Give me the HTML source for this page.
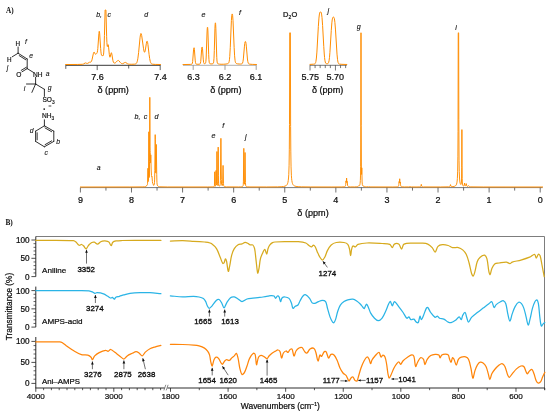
<!DOCTYPE html>
<html lang="en"><head><meta charset="utf-8"><title>NMR and FTIR spectra of Ani-AMPS</title>
<style>html,body{margin:0;padding:0;background:#fff}svg{display:block}</style></head>
<body>
<svg width="550" height="414" viewBox="0 0 550 414">
<rect width="550" height="414" fill="#ffffff"/>
<text x="6" y="12.8" font-family='"Liberation Serif", "Times New Roman", serif' font-size="7.2" font-weight="bold" fill="#0d0d0d">A)</text>
<line x1="18.1" y1="47" x2="18.1" y2="53.2" stroke="#1a1a1a" stroke-width="0.9" stroke-linecap="round"/>
<line x1="18.1" y1="53.2" x2="12.2" y2="56.8" stroke="#1a1a1a" stroke-width="0.9" stroke-linecap="round"/>
<line x1="18.1" y1="53.2" x2="27.2" y2="59" stroke="#1a1a1a" stroke-width="0.9" stroke-linecap="round"/>
<line x1="19.2" y1="55.6" x2="25.8" y2="59.8" stroke="#1a1a1a" stroke-width="0.9" stroke-linecap="round"/>
<line x1="27.2" y1="59" x2="27.2" y2="68.6" stroke="#1a1a1a" stroke-width="0.9" stroke-linecap="round"/>
<line x1="27.2" y1="68.6" x2="22" y2="71.8" stroke="#1a1a1a" stroke-width="0.9" stroke-linecap="round"/>
<line x1="26.4" y1="67.2" x2="21.2" y2="70.4" stroke="#1a1a1a" stroke-width="0.9" stroke-linecap="round"/>
<line x1="27.2" y1="68.6" x2="33.4" y2="72.4" stroke="#1a1a1a" stroke-width="0.9" stroke-linecap="round"/>
<line x1="35.6" y1="77.2" x2="35.6" y2="84" stroke="#1a1a1a" stroke-width="0.9" stroke-linecap="round"/>
<line x1="35.6" y1="84" x2="26.5" y2="84" stroke="#1a1a1a" stroke-width="0.9" stroke-linecap="round"/>
<line x1="35.6" y1="84" x2="31.9" y2="92.4" stroke="#1a1a1a" stroke-width="0.9" stroke-linecap="round"/>
<line x1="35.6" y1="84" x2="44.4" y2="89.3" stroke="#1a1a1a" stroke-width="0.9" stroke-linecap="round"/>
<line x1="44.4" y1="89.3" x2="44.4" y2="96.4" stroke="#1a1a1a" stroke-width="0.9" stroke-linecap="round"/>
<text x="17.9" y="46.2" font-family='"Liberation Sans", Arial, sans-serif' font-size="6.3" text-anchor="middle" fill="#0d0d0d" stroke="#111" stroke-width="0.18">H</text>
<text x="9.4" y="61.9" font-family='"Liberation Sans", Arial, sans-serif' font-size="6.3" text-anchor="middle" fill="#0d0d0d" stroke="#111" stroke-width="0.18">H</text>
<text x="18.8" y="76.7" font-family='"Liberation Sans", Arial, sans-serif' font-size="6.6" text-anchor="middle" fill="#0d0d0d" stroke="#111" stroke-width="0.18">O</text>
<text x="33" y="76.7" font-family='"Liberation Sans", Arial, sans-serif' font-size="6.6" fill="#0d0d0d" stroke="#111" stroke-width="0.18">NH</text>
<text x="42.4" y="102.2" font-family='"Liberation Sans", Arial, sans-serif' font-size="6.6" fill="#0d0d0d" stroke="#111" stroke-width="0.18">SO<tspan font-size="4.8" dy="1.3">3</tspan></text>
<line x1="48.6" y1="106" x2="51.3" y2="106" stroke="#111" stroke-width="0.8"/>
<circle cx="44.2" cy="109.1" r="0.85" fill="#111"/>
<text x="41.9" y="118.4" font-family='"Liberation Sans", Arial, sans-serif' font-size="6.6" fill="#0d0d0d" stroke="#111" stroke-width="0.18">NH<tspan font-size="4.8" dy="1.3">3</tspan></text>
<line x1="44.4" y1="119.8" x2="44.4" y2="125.8" stroke="#1a1a1a" stroke-width="0.9" stroke-linecap="round"/>
<line x1="44.4" y1="125.8" x2="53.8" y2="131.2" stroke="#1a1a1a" stroke-width="0.9" stroke-linecap="round"/>
<line x1="53.8" y1="131.2" x2="53.8" y2="141.4" stroke="#1a1a1a" stroke-width="0.9" stroke-linecap="round"/>
<line x1="53.8" y1="141.4" x2="44.4" y2="146.8" stroke="#1a1a1a" stroke-width="0.9" stroke-linecap="round"/>
<line x1="44.4" y1="146.8" x2="35.6" y2="141.4" stroke="#1a1a1a" stroke-width="0.9" stroke-linecap="round"/>
<line x1="35.6" y1="141.4" x2="35.6" y2="131.2" stroke="#1a1a1a" stroke-width="0.9" stroke-linecap="round"/>
<line x1="35.6" y1="131.2" x2="44.4" y2="125.8" stroke="#1a1a1a" stroke-width="0.9" stroke-linecap="round"/>
<line x1="45.06" y1="127.94" x2="51.61" y2="131.71" stroke="#1a1a1a" stroke-width="0.9" stroke-linecap="round"/>
<line x1="51.61" y1="140.89" x2="45.06" y2="144.66" stroke="#1a1a1a" stroke-width="0.9" stroke-linecap="round"/>
<line x1="37.13" y1="139.86" x2="37.13" y2="132.74" stroke="#1a1a1a" stroke-width="0.9" stroke-linecap="round"/>
<text x="26" y="44.2" font-family='"Liberation Sans", Arial, sans-serif' font-size="6.8" text-anchor="middle" font-style="italic" fill="#0d0d0d" stroke="#111" stroke-width="0.1">f</text>
<text x="31.2" y="58.1" font-family='"Liberation Sans", Arial, sans-serif' font-size="6.8" text-anchor="middle" font-style="italic" fill="#0d0d0d" stroke="#111" stroke-width="0.1">e</text>
<text x="7.6" y="70.2" font-family='"Liberation Sans", Arial, sans-serif' font-size="6.8" text-anchor="middle" font-style="italic" fill="#0d0d0d" stroke="#111" stroke-width="0.1">j</text>
<text x="47.6" y="76.2" font-family='"Liberation Sans", Arial, sans-serif' font-size="6.8" text-anchor="middle" font-style="italic" fill="#0d0d0d" stroke="#111" stroke-width="0.1">a</text>
<text x="24.4" y="91.4" font-family='"Liberation Sans", Arial, sans-serif' font-size="6.8" text-anchor="middle" font-style="italic" fill="#0d0d0d" stroke="#111" stroke-width="0.1">i</text>
<text x="49.6" y="89.7" font-family='"Liberation Sans", Arial, sans-serif' font-size="6.8" text-anchor="middle" font-style="italic" fill="#0d0d0d" stroke="#111" stroke-width="0.1">g</text>
<text x="31.7" y="133.2" font-family='"Liberation Sans", Arial, sans-serif' font-size="6.8" text-anchor="middle" font-style="italic" fill="#0d0d0d" stroke="#111" stroke-width="0.1">d</text>
<text x="58.2" y="144.2" font-family='"Liberation Sans", Arial, sans-serif' font-size="6.8" text-anchor="middle" font-style="italic" fill="#0d0d0d" stroke="#111" stroke-width="0.1">b</text>
<text x="46.2" y="155.2" font-family='"Liberation Sans", Arial, sans-serif' font-size="6.8" text-anchor="middle" font-style="italic" fill="#0d0d0d" stroke="#111" stroke-width="0.1">c</text>
<line x1="65.6" y1="65.3" x2="160.5" y2="65.3" stroke="#222" stroke-width="0.9"/>
<line x1="65.8" y1="65.3" x2="65.8" y2="68.9" stroke="#222" stroke-width="0.7"/>
<line x1="97.2" y1="65.3" x2="97.2" y2="70.1" stroke="#222" stroke-width="0.7"/>
<line x1="128.7" y1="65.3" x2="128.7" y2="68.5" stroke="#222" stroke-width="0.7"/>
<line x1="160.2" y1="65.3" x2="160.2" y2="70.1" stroke="#222" stroke-width="0.7"/>
<path d="M65.6 64.54L77.3 64.46L82.25 64.3L82.95 64.18L83.5 63.99L85.25 62.94L85.7 62.94L86.8 63.38L87.4 63.42L88 63.19L89.3 62.34L89.7 62.23L90.6 62.19L91.05 61.93L91.55 61.14L92 59.83L93.3 53.79L93.55 52.85L93.8 52.26L94 52.07L94.25 52.19L95.15 53.91L95.4 54.21L95.65 54.31L96.05 54.12L96.8 53.35L97.05 52.93L97.25 52.34L97.55 50.78L97.8 48.67L98.9 33.59L99.1 31.85L99.2 31.4L99.3 31.28L99.5 32.02L99.7 33.95L100.65 48.53L100.95 51.92L101.2 53.82L101.45 54.94L101.75 55.51L101.95 55.6L102.45 55.59L102.95 55.81L103.2 55.66L103.45 54.87L103.7 52.96L104.1 46.17L104.45 35.44L105.1 10L105.9 10L105.95 10.27L106.65 36.72L106.9 42.6L107.2 46.07L107.3 46.48L107.35 46.57L107.45 46.56L108 44.76L108.15 44.66L108.3 45.04L108.6 47.17L109.3 54.38L109.55 56.12L109.75 56.93L109.95 57.22L110.05 57.18L110.2 56.92L111.05 53.29L111.25 52.78L111.35 52.7L111.45 52.75L111.8 53.9L112.95 60.68L113.35 62.01L113.85 62.82L114.15 63.02L114.5 63.09L114.9 63.03L115.3 62.86L116.05 62.26L117.5 60.68L117.85 60.45L118.2 60.38L118.55 60.49L118.95 60.81L120.3 62.46L120.9 63.06L121.45 63.44L122.05 63.65L122.55 63.66L123.05 63.53L124.7 62.56L125.25 62.4L125.9 62.6L127.15 63.49L127.8 63.86L128.45 64.09L129.25 64.22L131.75 64.28L134.5 64.17L135.55 63.95L136.25 63.48L136.75 62.74L137.15 61.72L137.55 60.15L137.9 58.22L138.6 52.61L140.1 37.17L140.55 34.35L140.75 33.7L140.85 33.52L141 33.44L141.15 33.58L141.35 34.07L141.7 35.64L143.55 48.78L144 51.12L144.4 52.17L144.6 52.26L144.75 52.12L145.15 50.93L145.5 49.06L146.3 43.73L146.7 41.8L146.9 41.29L147.05 41.15L147.2 41.23L147.4 41.68L147.65 42.75L147.95 44.68L149.1 54.55L149.65 58.48L150.25 61.38L150.6 62.44L150.95 63.16L151.3 63.62L151.65 63.9L152.1 64.1L152.75 64.24L155.4 64.41L160.5 64.5" fill="none" stroke="#FF8C00" stroke-width="1.0" stroke-linejoin="round" stroke-linecap="round"/>
<text x="97.4" y="79.6" font-family='"Liberation Sans", Arial, sans-serif' font-size="9.0" text-anchor="middle" fill="#0d0d0d" stroke="#0d0d0d" stroke-width="0.22">7.6</text>
<text x="160.6" y="79.6" font-family='"Liberation Sans", Arial, sans-serif' font-size="9.0" text-anchor="middle" fill="#0d0d0d" stroke="#0d0d0d" stroke-width="0.22">7.4</text>
<text x="113.2" y="93.1" font-family='"Liberation Sans", Arial, sans-serif' font-size="9.1" text-anchor="middle" fill="#0d0d0d" stroke="#0d0d0d" stroke-width="0.22">δ (ppm)</text>
<text x="99" y="16.8" font-family='"Liberation Sans", Arial, sans-serif' font-size="6.9" text-anchor="middle" font-style="italic" fill="#0d0d0d" stroke="#0d0d0d" stroke-width="0.12">b,</text>
<text x="109.2" y="16.8" font-family='"Liberation Sans", Arial, sans-serif' font-size="6.9" text-anchor="middle" font-style="italic" fill="#0d0d0d" stroke="#0d0d0d" stroke-width="0.12">c</text>
<text x="146.2" y="16.8" font-family='"Liberation Sans", Arial, sans-serif' font-size="6.9" text-anchor="middle" font-style="italic" fill="#0d0d0d" stroke="#0d0d0d" stroke-width="0.12">d</text>
<line x1="183" y1="65.3" x2="256.5" y2="65.3" stroke="#9a9a9a" stroke-width="0.8"/>
<line x1="193.2" y1="65.3" x2="193.2" y2="69.9" stroke="#777" stroke-width="0.7"/>
<line x1="225" y1="65.3" x2="225" y2="69.9" stroke="#777" stroke-width="0.7"/>
<line x1="256.2" y1="65.3" x2="256.2" y2="69.9" stroke="#777" stroke-width="0.7"/>
<path d="M183 64.56L190.3 64.41L191.65 64.21L191.95 64.07L192.15 63.84L192.4 63.16L192.65 61.64L193.55 49.87L193.75 48.3L193.85 47.9L194 47.72L194.1 47.79L194.2 48.06L194.4 49.37L195.2 60.15L195.45 62.34L195.7 63.46L195.9 63.86L196.1 64.04L196.9 64.23L197.95 64.27L199 64.22L199.75 64.08L200.1 63.89L200.3 63.6L200.45 63.19L200.75 61.42L201.65 49.21L201.85 47.57L201.95 47.16L202.1 46.96L202.2 47.03L202.3 47.31L202.5 48.66L203.25 59.17L203.65 62.57L203.9 63.37L204.2 63.67L204.5 63.72L204.95 63.65L205.25 63.5L205.45 63.29L205.65 62.8L205.85 61.73L206.15 57.97L207.05 31.96L207.25 28.48L207.35 27.6L207.5 27.2L207.6 27.36L207.7 27.97L207.9 30.88L208.7 54.76L208.95 59.61L209.2 62.1L209.35 62.83L209.55 63.33L209.8 63.59L210.2 63.77L211.05 63.92L212 63.89L212.8 63.69L213.25 63.37L213.5 62.85L213.7 61.85L214 58.22L214.3 50.66L214.95 28.16L215.15 24.26L215.25 23.28L215.4 22.84L215.55 23.28L215.65 24.27L215.85 28.17L216.75 57.29L217 61.04L217.3 62.9L217.6 63.49L218.25 63.87L219.4 64.13L221.05 64.25L223.75 64.23L226.05 64.04L227.65 63.69L228.1 63.49L228.45 63.23L228.85 62.59L229.2 61.32L229.5 59.25L229.75 56.51L230.25 47.67L231.4 20.41L231.8 15.3L232 14.21L232.2 13.93L232.4 14.21L232.6 15.29L233 20.4L234.15 47.66L234.6 55.81L235.05 60.4L235.3 61.76L235.6 62.68L236 63.25L236.55 63.57L237.65 63.86L239.1 64.01L240.55 64.02L241.65 63.88L242.2 63.58L242.55 63.04L242.95 61.64L243.35 58.93L244.4 46.87L244.75 43.62L245.05 42L245.2 41.62L245.4 41.48L245.6 41.63L245.75 42.02L246.05 43.64L246.4 46.9L247.45 59L247.85 61.73L248.3 63.26L248.55 63.65L248.85 63.9L249.85 64.18L252.3 64.39L256.5 64.5" fill="none" stroke="#FF8C00" stroke-width="1.0" stroke-linejoin="round" stroke-linecap="round"/>
<text x="193.4" y="79.6" font-family='"Liberation Sans", Arial, sans-serif' font-size="9.0" text-anchor="middle" fill="#0d0d0d" stroke="#0d0d0d" stroke-width="0.22">6.3</text>
<text x="225" y="79.6" font-family='"Liberation Sans", Arial, sans-serif' font-size="9.0" text-anchor="middle" fill="#0d0d0d" stroke="#0d0d0d" stroke-width="0.22">6.2</text>
<text x="256" y="79.6" font-family='"Liberation Sans", Arial, sans-serif' font-size="9.0" text-anchor="middle" fill="#0d0d0d" stroke="#0d0d0d" stroke-width="0.22">6.1</text>
<text x="225.8" y="93.1" font-family='"Liberation Sans", Arial, sans-serif' font-size="9.1" text-anchor="middle" fill="#0d0d0d" stroke="#0d0d0d" stroke-width="0.22">δ (ppm)</text>
<text x="203.6" y="17" font-family='"Liberation Sans", Arial, sans-serif' font-size="7.1" text-anchor="middle" font-style="italic" fill="#0d0d0d" stroke="#0d0d0d" stroke-width="0.12">e</text>
<text x="239.9" y="15.4" font-family='"Liberation Sans", Arial, sans-serif' font-size="7.1" text-anchor="middle" font-style="italic" fill="#0d0d0d" stroke="#0d0d0d" stroke-width="0.12">f</text>
<line x1="309.8" y1="65.3" x2="346.8" y2="65.3" stroke="#555" stroke-width="0.8"/>
<line x1="310" y1="65.3" x2="310" y2="70.5" stroke="#333" stroke-width="0.65"/>
<line x1="315.09" y1="65.3" x2="315.09" y2="68.1" stroke="#333" stroke-width="0.65"/>
<line x1="320.18" y1="65.3" x2="320.18" y2="68.1" stroke="#333" stroke-width="0.65"/>
<line x1="325.27" y1="65.3" x2="325.27" y2="68.1" stroke="#333" stroke-width="0.65"/>
<line x1="330.36" y1="65.3" x2="330.36" y2="68.1" stroke="#333" stroke-width="0.65"/>
<line x1="335.45" y1="65.3" x2="335.45" y2="70.5" stroke="#333" stroke-width="0.65"/>
<line x1="340.54" y1="65.3" x2="340.54" y2="68.1" stroke="#333" stroke-width="0.65"/>
<line x1="345.63" y1="65.3" x2="345.63" y2="68.1" stroke="#333" stroke-width="0.65"/>
<path d="M310 64.39L313.45 64.2L314.25 64.09L314.7 63.95L315.1 63.64L315.4 63.18L315.65 62.52L315.9 61.52L316.4 58.03L316.9 52.09L318.35 26.36L318.95 18.08L319.3 14.97L319.65 13.09L320 12.18L320.2 11.97L320.5 11.9L320.8 11.96L321 12.17L321.35 13.06L321.7 14.94L322 17.51L322.6 25.47L323.75 46.4L324.25 54.01L324.55 57.41L324.9 60.22L325.25 61.99L325.6 62.97L325.95 63.47L326.45 63.74L327.3 63.79L327.95 63.59L328.3 63.22L328.55 62.73L329.05 60.77L329.5 57.35L329.9 52.69L331.25 30.63L331.85 22.88L332.2 19.96L332.55 18.18L332.95 17.27L333.15 17.12L333.45 17.08L333.7 17.16L333.9 17.35L334.25 18.21L334.6 20L334.9 22.44L335.5 29.94L337 54.14L337.5 59.27L337.75 60.96L338.05 62.34L338.3 63.08L338.6 63.61L338.95 63.92L339.4 64.1L341.95 64.33L346.8 64.47" fill="none" stroke="#FF8C00" stroke-width="1.0" stroke-linejoin="round" stroke-linecap="round"/>
<text x="310.3" y="79.6" font-family='"Liberation Sans", Arial, sans-serif' font-size="9.0" text-anchor="middle" fill="#0d0d0d" stroke="#0d0d0d" stroke-width="0.22">5.75</text>
<text x="335.3" y="79.6" font-family='"Liberation Sans", Arial, sans-serif' font-size="9.0" text-anchor="middle" fill="#0d0d0d" stroke="#0d0d0d" stroke-width="0.22">5.70</text>
<text x="327.6" y="93.1" font-family='"Liberation Sans", Arial, sans-serif' font-size="9.1" text-anchor="middle" fill="#0d0d0d" stroke="#0d0d0d" stroke-width="0.22">δ (ppm)</text>
<text x="328.2" y="12.7" font-family='"Liberation Sans", Arial, sans-serif' font-size="7.1" text-anchor="middle" font-style="italic" fill="#0d0d0d" stroke="#0d0d0d" stroke-width="0.12">j</text>
<line x1="80.4" y1="187.6" x2="542.6" y2="187.6" stroke="#555" stroke-width="0.8"/>
<line x1="80.4" y1="187.6" x2="80.4" y2="192.5" stroke="#333" stroke-width="0.7"/>
<text x="80.4" y="202.6" font-family='"Liberation Sans", Arial, sans-serif' font-size="9.0" text-anchor="middle" fill="#0d0d0d" stroke="#0d0d0d" stroke-width="0.22">9</text>
<line x1="105.95" y1="187.6" x2="105.95" y2="190.6" stroke="#333" stroke-width="0.7"/>
<line x1="131.49" y1="187.6" x2="131.49" y2="192.5" stroke="#333" stroke-width="0.7"/>
<text x="131.49" y="202.6" font-family='"Liberation Sans", Arial, sans-serif' font-size="9.0" text-anchor="middle" fill="#0d0d0d" stroke="#0d0d0d" stroke-width="0.22">8</text>
<line x1="157.04" y1="187.6" x2="157.04" y2="190.6" stroke="#333" stroke-width="0.7"/>
<line x1="182.58" y1="187.6" x2="182.58" y2="192.5" stroke="#333" stroke-width="0.7"/>
<text x="182.58" y="202.6" font-family='"Liberation Sans", Arial, sans-serif' font-size="9.0" text-anchor="middle" fill="#0d0d0d" stroke="#0d0d0d" stroke-width="0.22">7</text>
<line x1="208.12" y1="187.6" x2="208.12" y2="190.6" stroke="#333" stroke-width="0.7"/>
<line x1="233.67" y1="187.6" x2="233.67" y2="192.5" stroke="#333" stroke-width="0.7"/>
<text x="233.67" y="202.6" font-family='"Liberation Sans", Arial, sans-serif' font-size="9.0" text-anchor="middle" fill="#0d0d0d" stroke="#0d0d0d" stroke-width="0.22">6</text>
<line x1="259.22" y1="187.6" x2="259.22" y2="190.6" stroke="#333" stroke-width="0.7"/>
<line x1="284.76" y1="187.6" x2="284.76" y2="192.5" stroke="#333" stroke-width="0.7"/>
<text x="284.76" y="202.6" font-family='"Liberation Sans", Arial, sans-serif' font-size="9.0" text-anchor="middle" fill="#0d0d0d" stroke="#0d0d0d" stroke-width="0.22">5</text>
<line x1="310.31" y1="187.6" x2="310.31" y2="190.6" stroke="#333" stroke-width="0.7"/>
<line x1="335.85" y1="187.6" x2="335.85" y2="192.5" stroke="#333" stroke-width="0.7"/>
<text x="335.85" y="202.6" font-family='"Liberation Sans", Arial, sans-serif' font-size="9.0" text-anchor="middle" fill="#0d0d0d" stroke="#0d0d0d" stroke-width="0.22">4</text>
<line x1="361.39" y1="187.6" x2="361.39" y2="190.6" stroke="#333" stroke-width="0.7"/>
<line x1="386.94" y1="187.6" x2="386.94" y2="192.5" stroke="#333" stroke-width="0.7"/>
<text x="386.94" y="202.6" font-family='"Liberation Sans", Arial, sans-serif' font-size="9.0" text-anchor="middle" fill="#0d0d0d" stroke="#0d0d0d" stroke-width="0.22">3</text>
<line x1="412.49" y1="187.6" x2="412.49" y2="190.6" stroke="#333" stroke-width="0.7"/>
<line x1="438.03" y1="187.6" x2="438.03" y2="192.5" stroke="#333" stroke-width="0.7"/>
<text x="438.03" y="202.6" font-family='"Liberation Sans", Arial, sans-serif' font-size="9.0" text-anchor="middle" fill="#0d0d0d" stroke="#0d0d0d" stroke-width="0.22">2</text>
<line x1="463.58" y1="187.6" x2="463.58" y2="190.6" stroke="#333" stroke-width="0.7"/>
<line x1="489.12" y1="187.6" x2="489.12" y2="192.5" stroke="#333" stroke-width="0.7"/>
<text x="489.12" y="202.6" font-family='"Liberation Sans", Arial, sans-serif' font-size="9.0" text-anchor="middle" fill="#0d0d0d" stroke="#0d0d0d" stroke-width="0.22">1</text>
<line x1="514.67" y1="187.6" x2="514.67" y2="190.6" stroke="#333" stroke-width="0.7"/>
<line x1="540.21" y1="187.6" x2="540.21" y2="192.5" stroke="#333" stroke-width="0.7"/>
<text x="540.21" y="202.6" font-family='"Liberation Sans", Arial, sans-serif' font-size="9.0" text-anchor="middle" fill="#0d0d0d" stroke="#0d0d0d" stroke-width="0.22">0</text>
<text x="313" y="215.8" font-family='"Liberation Sans", Arial, sans-serif' font-size="9.1" text-anchor="middle" fill="#0d0d0d" stroke="#0d0d0d" stroke-width="0.22">δ (ppm)</text>
<path d="M80.4 187L129.86 186.98L142.14 186.9L144.51 186.8L145.76 186.62L146.14 186.37L146.59 185.51L146.87 185.51L146.99 185.43L147.43 184.59L147.57 183.31L147.93 168.27L148.23 180.41L148.33 181.47L148.42 180.23L148.57 170.27L148.84 131.78L149.14 171.63L149.24 176.85L149.3 177.44L149.36 176.43L149.52 161.68L149.8 97.33L150.07 146.92L150.13 150.7L150.28 152.48L150.48 162.51L150.52 163.06L150.57 162.6L150.81 154.83L151.16 169.04L151.48 175.64L151.63 176.58L151.71 176.56L151.89 176.11L151.99 176.41L152.4 181.52L152.6 183.08L152.73 183.45L152.93 183.53L153.01 183.65L153.35 184.98L153.57 185.37L153.77 185.35L153.99 185.09L154.31 184.13L154.48 182.66L154.61 179.91L154.79 170.61L155.2 134.64L155.31 139.54L155.58 166.04L155.73 172.79L155.77 173.09L155.82 172.6L155.91 169.4L156.19 148.26L156.3 144.45L156.72 174.25L156.94 182.29L157.09 184.12L157.34 185.24L157.79 186L158.49 186.46L159.44 186.69L160.94 186.83L167.36 186.96L207.63 186.97L212.17 186.93L213.72 186.79L214.05 186.65L214.26 186.41L214.45 185.4L214.75 171.8L215.02 184.77L215.15 185.99L215.28 186.21L215.45 186.22L215.59 186.03L215.68 185.71L215.79 184.25L216.05 170.45L216.31 183.79L216.45 184.94L216.61 183.57L216.73 176.77L216.93 151.53L217.19 181.41L217.31 184.61L217.42 185.24L217.5 185.39L217.59 185.41L217.74 185.04L217.83 184.3L217.94 180.8L218.2 147.1L218.4 175.66L218.52 183.45L218.62 184.99L218.8 185.78L218.95 186.03L219.13 186.15L219.36 186.17L219.59 186.06L219.95 185.54L220.18 184.64L220.32 183.09L220.42 180.43L220.9 138.32L221.36 179.56L221.57 184.15L221.75 185.11L222.03 185.6L222.26 185.6L222.42 185.26L222.61 183.36L223.05 165.41L223.48 183.38L223.66 185.53L223.8 186.02L224.02 186.36L224.34 186.59L224.79 186.74L226.45 186.9L238.58 186.95L240.68 186.89L241.83 186.78L242.5 186.55L242.91 186.13L243.13 185.57L243.27 184.73L243.43 181.17L243.8 148.34L244.09 176.13L244.26 183.14L244.38 184.16L244.45 184.24L244.52 184.03L244.69 180.86L245.05 152.5L245.44 182.45L245.63 185.29L245.82 185.97L246.14 186.43L246.57 186.67L247.23 186.82L249.98 186.94L266.49 186.96L277.52 186.86L281.13 186.73L283.48 186.51L285.09 186.14L286.21 185.58L286.93 184.85L287.48 183.83L287.91 182.44L288.25 180.56L288.53 178L288.75 174.74L289.08 165.21L289.32 149.2L289.49 124.54L289.72 32.8L290.38 32.8L290.62 126.57L290.8 151.11L291.06 166.86L291.38 175.28L291.59 178.23L291.84 180.49L292.15 182.26L292.53 183.6L293.01 184.61L293.61 185.34L294.07 185.7L294.62 185.99L296.06 186.42L298.14 186.68L301.31 186.83L310.35 186.95L331.13 186.98L341.2 186.95L344.13 186.83L344.69 186.71L345.07 186.51L345.33 186.2L345.52 185.72L345.73 184.42L345.99 180.95L346.02 180.89L346.05 180.99L346.22 182.3L346.27 182.34L346.32 182.13L346.6 178.05L346.9 182.39L346.95 182.55L347 182.47L347.2 181.39L347.59 185.43L347.84 186.19L348.24 186.59L349.03 186.82L350.58 186.91L354.42 186.91L356.84 186.79L357.5 186.68L357.91 186.52L358.15 186.29L358.5 185.73L358.87 186.04L359.14 186.02L359.42 185.78L359.67 185.36L359.91 184.62L360.1 183.57L360.36 180.4L360.53 175.09L360.65 166.25L360.81 126.15L360.91 32.8L361.09 32.8L361.19 125.64L361.36 165.99L361.53 174.18L361.58 174.45L361.63 173.8L361.8 167.84L362.11 181.96L362.34 184.4L362.52 185.17L362.76 185.72L363.02 186.04L363.31 186.21L363.62 186.18L364 185.82L364.38 186.39L364.68 186.61L365.27 186.76L366.28 186.84L367.18 186.83L367.72 186.73L368.02 186.55L368.5 186.03L368.98 186.57L369.3 186.76L369.86 186.88L370.9 186.93L392.83 186.97L396.07 186.93L397.51 186.81L397.95 186.68L398.26 186.49L398.48 186.2L398.64 185.79L398.84 184.58L399.09 181.54L399.12 181.49L399.15 181.58L399.32 182.74L399.37 182.77L399.42 182.56L399.7 178.78L399.99 182.76L400.04 182.96L400.09 182.95L400.25 182.03L400.28 181.97L400.31 182.03L400.56 184.78L400.75 185.84L400.93 186.27L401.18 186.55L401.54 186.73L402.07 186.84L404.61 186.95L408.63 186.92L409.38 186.75L410 186.18L410.64 186.76L411.46 186.93L416.98 186.97L419.8 186.89L420.4 186.73L420.75 186.39L420.95 185.89L421.3 184.39L421.67 185.96L421.93 186.51L422.4 186.81L423.31 186.93L440.54 186.96L448.68 186.83L449.47 186.69L449.9 186.41L450.14 185.94L450.5 184.63L450.94 186.11L451.14 186.4L451.41 186.57L452.02 186.66L453.02 186.61L454.01 186.45L454.79 186.22L455.56 185.76L456.13 185.1L456.56 184.16L456.89 182.85L457.15 181.05L457.36 178.59L457.66 171.17L457.89 156.16L458.04 131.37L458.22 33.58L458.23 32.8L458.67 32.8L458.82 119.74L459.06 160.79L459.25 171.48L459.51 178L459.89 181.96L460.15 183.25L460.47 184.12L460.7 184.43L460.92 184.48L461.1 184.29L461.25 183.81L461.45 182.09L461.58 178.96L461.73 167.22L461.9 129.59L462.06 165.82L462.2 178.42L462.32 181.98L462.49 184.05L462.76 185.26L462.95 185.63L463.19 185.88L463.44 185.99L463.69 185.99L463.89 185.87L464.05 185.64L464.25 185L464.6 183.02L465 185.25L465.16 185.71L465.36 185.95L465.63 185.95L465.85 185.62L466.3 183.65L466.72 185.68L466.89 186.08L467.12 186.34L467.48 186.47L467.84 186.4L468.06 186.21L468.5 185.6L468.98 186.35L469.29 186.61L469.84 186.78L470.81 186.87L483.26 186.98L542.6 187" fill="none" stroke="#FF8C00" stroke-width="0.95" stroke-linejoin="round" stroke-linecap="round" stroke-linejoin="miter"/>
<text x="137.4" y="118.9" font-family='"Liberation Sans", Arial, sans-serif' font-size="7.1" text-anchor="middle" font-style="italic" fill="#0d0d0d" stroke="#0d0d0d" stroke-width="0.12">b,</text>
<text x="145.6" y="118.9" font-family='"Liberation Sans", Arial, sans-serif' font-size="7.1" text-anchor="middle" font-style="italic" fill="#0d0d0d" stroke="#0d0d0d" stroke-width="0.12">c</text>
<text x="156.4" y="118.9" font-family='"Liberation Sans", Arial, sans-serif' font-size="7.1" text-anchor="middle" font-style="italic" fill="#0d0d0d" stroke="#0d0d0d" stroke-width="0.12">d</text>
<text x="213.4" y="137.9" font-family='"Liberation Sans", Arial, sans-serif' font-size="7.1" text-anchor="middle" font-style="italic" fill="#0d0d0d" stroke="#0d0d0d" stroke-width="0.12">e</text>
<text x="223.3" y="127.8" font-family='"Liberation Sans", Arial, sans-serif' font-size="7.1" text-anchor="middle" font-style="italic" fill="#0d0d0d" stroke="#0d0d0d" stroke-width="0.12">f</text>
<text x="245.9" y="138.6" font-family='"Liberation Sans", Arial, sans-serif' font-size="7.1" text-anchor="middle" font-style="italic" fill="#0d0d0d" stroke="#0d0d0d" stroke-width="0.12">j</text>
<text x="98.6" y="169.6" font-family='"Liberation Sans", Arial, sans-serif' font-size="6.9" text-anchor="middle" font-style="italic" fill="#0d0d0d" stroke="#0d0d0d" stroke-width="0.12">a</text>
<text x="358.7" y="28.5" font-family='"Liberation Sans", Arial, sans-serif' font-size="7.1" text-anchor="middle" font-style="italic" fill="#0d0d0d" stroke="#0d0d0d" stroke-width="0.12">g</text>
<text x="456" y="30.4" font-family='"Liberation Sans", Arial, sans-serif' font-size="7.1" text-anchor="middle" font-style="italic" fill="#0d0d0d" stroke="#0d0d0d" stroke-width="0.12">i</text>
<text x="283" y="17" font-family='"Liberation Sans", Arial, sans-serif' font-size="7.5" fill="#0d0d0d" stroke="#0d0d0d" stroke-width="0.22">D<tspan font-size="5" dy="2.3" dx="0.2">2</tspan><tspan dy="-2.3" dx="0.2">O</tspan></text>
<text x="5.4" y="224.5" font-family='"Liberation Serif", "Times New Roman", serif' font-size="7.4" font-weight="bold" fill="#0d0d0d">B)</text>
<line x1="35.8" y1="236.5" x2="544.5" y2="236.5" stroke="#6e6e6e" stroke-width="0.9"/>
<line x1="544.5" y1="236.5" x2="544.5" y2="390.1" stroke="#6e6e6e" stroke-width="0.9"/>
<line x1="35.35" y1="388" x2="164.6" y2="388" stroke="#222" stroke-width="0.95"/>
<line x1="167.4" y1="388" x2="544.95" y2="388" stroke="#222" stroke-width="0.95"/>
<line x1="163.9" y1="390.4" x2="165.8" y2="384.8" stroke="#3a3a3a" stroke-width="0.6"/>
<line x1="166.2" y1="390.4" x2="168.1" y2="384.8" stroke="#3a3a3a" stroke-width="0.6"/>
<line x1="35.8" y1="236.5" x2="35.8" y2="276.6" stroke="#222" stroke-width="0.95"/>
<line x1="31.4" y1="276.6" x2="35.8" y2="276.6" stroke="#222" stroke-width="0.8"/>
<text x="29.6" y="279.5" font-family='"Liberation Sans", Arial, sans-serif' font-size="8.2" text-anchor="end" fill="#0d0d0d" stroke="#0d0d0d" stroke-width="0.22">0</text>
<line x1="33.5" y1="272.94" x2="35.8" y2="272.94" stroke="#222" stroke-width="0.7"/>
<line x1="33.5" y1="269.28" x2="35.8" y2="269.28" stroke="#222" stroke-width="0.7"/>
<line x1="33.5" y1="265.62" x2="35.8" y2="265.62" stroke="#222" stroke-width="0.7"/>
<line x1="33.5" y1="261.96" x2="35.8" y2="261.96" stroke="#222" stroke-width="0.7"/>
<line x1="31.4" y1="258.3" x2="35.8" y2="258.3" stroke="#222" stroke-width="0.8"/>
<text x="29.6" y="261.2" font-family='"Liberation Sans", Arial, sans-serif' font-size="8.2" text-anchor="end" fill="#0d0d0d" stroke="#0d0d0d" stroke-width="0.22">50</text>
<line x1="33.5" y1="254.64" x2="35.8" y2="254.64" stroke="#222" stroke-width="0.7"/>
<line x1="33.5" y1="250.98" x2="35.8" y2="250.98" stroke="#222" stroke-width="0.7"/>
<line x1="33.5" y1="247.32" x2="35.8" y2="247.32" stroke="#222" stroke-width="0.7"/>
<line x1="33.5" y1="243.66" x2="35.8" y2="243.66" stroke="#222" stroke-width="0.7"/>
<line x1="31.4" y1="240" x2="35.8" y2="240" stroke="#222" stroke-width="0.8"/>
<text x="29.6" y="242.9" font-family='"Liberation Sans", Arial, sans-serif' font-size="8.2" text-anchor="end" fill="#0d0d0d" stroke="#0d0d0d" stroke-width="0.22">100</text>
<line x1="35.8" y1="286.6" x2="35.8" y2="327.1" stroke="#222" stroke-width="0.95"/>
<line x1="31.4" y1="327.1" x2="35.8" y2="327.1" stroke="#222" stroke-width="0.8"/>
<text x="29.6" y="330" font-family='"Liberation Sans", Arial, sans-serif' font-size="8.2" text-anchor="end" fill="#0d0d0d" stroke="#0d0d0d" stroke-width="0.22">0</text>
<line x1="33.5" y1="323.45" x2="35.8" y2="323.45" stroke="#222" stroke-width="0.7"/>
<line x1="33.5" y1="319.8" x2="35.8" y2="319.8" stroke="#222" stroke-width="0.7"/>
<line x1="33.5" y1="316.15" x2="35.8" y2="316.15" stroke="#222" stroke-width="0.7"/>
<line x1="33.5" y1="312.5" x2="35.8" y2="312.5" stroke="#222" stroke-width="0.7"/>
<line x1="31.4" y1="308.85" x2="35.8" y2="308.85" stroke="#222" stroke-width="0.8"/>
<text x="29.6" y="311.75" font-family='"Liberation Sans", Arial, sans-serif' font-size="8.2" text-anchor="end" fill="#0d0d0d" stroke="#0d0d0d" stroke-width="0.22">50</text>
<line x1="33.5" y1="305.2" x2="35.8" y2="305.2" stroke="#222" stroke-width="0.7"/>
<line x1="33.5" y1="301.55" x2="35.8" y2="301.55" stroke="#222" stroke-width="0.7"/>
<line x1="33.5" y1="297.9" x2="35.8" y2="297.9" stroke="#222" stroke-width="0.7"/>
<line x1="33.5" y1="294.25" x2="35.8" y2="294.25" stroke="#222" stroke-width="0.7"/>
<line x1="31.4" y1="290.6" x2="35.8" y2="290.6" stroke="#222" stroke-width="0.8"/>
<text x="29.6" y="293.5" font-family='"Liberation Sans", Arial, sans-serif' font-size="8.2" text-anchor="end" fill="#0d0d0d" stroke="#0d0d0d" stroke-width="0.22">100</text>
<line x1="35.8" y1="337" x2="35.8" y2="388" stroke="#222" stroke-width="0.95"/>
<line x1="31.4" y1="383.4" x2="35.8" y2="383.4" stroke="#222" stroke-width="0.8"/>
<text x="29.6" y="386.3" font-family='"Liberation Sans", Arial, sans-serif' font-size="8.2" text-anchor="end" fill="#0d0d0d" stroke="#0d0d0d" stroke-width="0.22">0</text>
<line x1="33.5" y1="379.2" x2="35.8" y2="379.2" stroke="#222" stroke-width="0.7"/>
<line x1="33.5" y1="375" x2="35.8" y2="375" stroke="#222" stroke-width="0.7"/>
<line x1="33.5" y1="370.8" x2="35.8" y2="370.8" stroke="#222" stroke-width="0.7"/>
<line x1="33.5" y1="366.6" x2="35.8" y2="366.6" stroke="#222" stroke-width="0.7"/>
<line x1="31.4" y1="362.4" x2="35.8" y2="362.4" stroke="#222" stroke-width="0.8"/>
<text x="29.6" y="365.3" font-family='"Liberation Sans", Arial, sans-serif' font-size="8.2" text-anchor="end" fill="#0d0d0d" stroke="#0d0d0d" stroke-width="0.22">50</text>
<line x1="33.5" y1="358.2" x2="35.8" y2="358.2" stroke="#222" stroke-width="0.7"/>
<line x1="33.5" y1="354" x2="35.8" y2="354" stroke="#222" stroke-width="0.7"/>
<line x1="33.5" y1="349.8" x2="35.8" y2="349.8" stroke="#222" stroke-width="0.7"/>
<line x1="33.5" y1="345.6" x2="35.8" y2="345.6" stroke="#222" stroke-width="0.7"/>
<line x1="31.4" y1="341.4" x2="35.8" y2="341.4" stroke="#222" stroke-width="0.8"/>
<text x="29.6" y="344.3" font-family='"Liberation Sans", Arial, sans-serif' font-size="8.2" text-anchor="end" fill="#0d0d0d" stroke="#0d0d0d" stroke-width="0.22">100</text>
<line x1="35.8" y1="388" x2="35.8" y2="391.8" stroke="#222" stroke-width="0.8"/>
<text x="35.8" y="399.3" font-family='"Liberation Sans", Arial, sans-serif' font-size="8.1" text-anchor="middle" fill="#0d0d0d" stroke="#0d0d0d" stroke-width="0.22">4000</text>
<line x1="43.6" y1="388" x2="43.6" y2="390.2" stroke="#222" stroke-width="0.75"/>
<line x1="51.4" y1="388" x2="51.4" y2="390.2" stroke="#222" stroke-width="0.75"/>
<line x1="59.2" y1="388" x2="59.2" y2="390.2" stroke="#222" stroke-width="0.75"/>
<line x1="67" y1="388" x2="67" y2="390.2" stroke="#222" stroke-width="0.75"/>
<line x1="74.8" y1="388" x2="74.8" y2="390.2" stroke="#222" stroke-width="0.75"/>
<line x1="82.6" y1="388" x2="82.6" y2="390.2" stroke="#222" stroke-width="0.75"/>
<line x1="90.4" y1="388" x2="90.4" y2="390.2" stroke="#222" stroke-width="0.75"/>
<line x1="98.2" y1="388" x2="98.2" y2="390.2" stroke="#222" stroke-width="0.75"/>
<line x1="106" y1="388" x2="106" y2="390.2" stroke="#222" stroke-width="0.75"/>
<line x1="113.8" y1="388" x2="113.8" y2="391.8" stroke="#222" stroke-width="0.8"/>
<text x="113.8" y="399.3" font-family='"Liberation Sans", Arial, sans-serif' font-size="8.1" text-anchor="middle" fill="#0d0d0d" stroke="#0d0d0d" stroke-width="0.22">3000</text>
<line x1="121.6" y1="388" x2="121.6" y2="390.2" stroke="#222" stroke-width="0.75"/>
<line x1="129.4" y1="388" x2="129.4" y2="390.2" stroke="#222" stroke-width="0.75"/>
<line x1="137.2" y1="388" x2="137.2" y2="390.2" stroke="#222" stroke-width="0.75"/>
<line x1="145" y1="388" x2="145" y2="390.2" stroke="#222" stroke-width="0.75"/>
<line x1="152.8" y1="388" x2="152.8" y2="390.2" stroke="#222" stroke-width="0.75"/>
<line x1="160.6" y1="388" x2="160.6" y2="390.2" stroke="#222" stroke-width="0.75"/>
<line x1="170.5" y1="388" x2="170.5" y2="391.8" stroke="#222" stroke-width="0.8"/>
<text x="170.5" y="399.3" font-family='"Liberation Sans", Arial, sans-serif' font-size="8.1" text-anchor="middle" fill="#0d0d0d" stroke="#0d0d0d" stroke-width="0.22">1800</text>
<line x1="199.29" y1="388" x2="199.29" y2="390.2" stroke="#222" stroke-width="0.75"/>
<line x1="228.08" y1="388" x2="228.08" y2="391.8" stroke="#222" stroke-width="0.8"/>
<text x="228.08" y="399.3" font-family='"Liberation Sans", Arial, sans-serif' font-size="8.1" text-anchor="middle" fill="#0d0d0d" stroke="#0d0d0d" stroke-width="0.22">1600</text>
<line x1="256.87" y1="388" x2="256.87" y2="390.2" stroke="#222" stroke-width="0.75"/>
<line x1="285.66" y1="388" x2="285.66" y2="391.8" stroke="#222" stroke-width="0.8"/>
<text x="285.66" y="399.3" font-family='"Liberation Sans", Arial, sans-serif' font-size="8.1" text-anchor="middle" fill="#0d0d0d" stroke="#0d0d0d" stroke-width="0.22">1400</text>
<line x1="314.45" y1="388" x2="314.45" y2="390.2" stroke="#222" stroke-width="0.75"/>
<line x1="343.24" y1="388" x2="343.24" y2="391.8" stroke="#222" stroke-width="0.8"/>
<text x="343.24" y="399.3" font-family='"Liberation Sans", Arial, sans-serif' font-size="8.1" text-anchor="middle" fill="#0d0d0d" stroke="#0d0d0d" stroke-width="0.22">1200</text>
<line x1="372.03" y1="388" x2="372.03" y2="390.2" stroke="#222" stroke-width="0.75"/>
<line x1="400.82" y1="388" x2="400.82" y2="391.8" stroke="#222" stroke-width="0.8"/>
<text x="400.82" y="399.3" font-family='"Liberation Sans", Arial, sans-serif' font-size="8.1" text-anchor="middle" fill="#0d0d0d" stroke="#0d0d0d" stroke-width="0.22">1000</text>
<line x1="429.61" y1="388" x2="429.61" y2="390.2" stroke="#222" stroke-width="0.75"/>
<line x1="458.4" y1="388" x2="458.4" y2="391.8" stroke="#222" stroke-width="0.8"/>
<text x="458.4" y="399.3" font-family='"Liberation Sans", Arial, sans-serif' font-size="8.1" text-anchor="middle" fill="#0d0d0d" stroke="#0d0d0d" stroke-width="0.22">800</text>
<line x1="487.19" y1="388" x2="487.19" y2="390.2" stroke="#222" stroke-width="0.75"/>
<line x1="515.98" y1="388" x2="515.98" y2="391.8" stroke="#222" stroke-width="0.8"/>
<text x="515.98" y="399.3" font-family='"Liberation Sans", Arial, sans-serif' font-size="8.1" text-anchor="middle" fill="#0d0d0d" stroke="#0d0d0d" stroke-width="0.22">600</text>
<line x1="544.77" y1="388" x2="544.77" y2="390.2" stroke="#222" stroke-width="0.75"/>
<text x="240.8" y="408.6" font-family='"Liberation Sans", Arial, sans-serif' font-size="8.45" fill="#0d0d0d" stroke="#0d0d0d" stroke-width="0.22">Wavenumbers (cm<tspan font-size="5" dy="-3">−1</tspan><tspan dy="3">)</tspan></text>
<text transform="translate(12.3,306.5) rotate(-90)" text-anchor="middle" font-family='"Liberation Sans", Arial, sans-serif' font-size="8.3" fill="#0d0d0d" stroke="#0d0d0d" stroke-width="0.22">Transmittance (%)</text>
<path d="M35.8 240.4C48.33 240.47 60.98 240.11 73.4 240.6C74.38 240.64 75.25 241.38 76 242C77.15 242.95 77.92 244.77 79.1 245.3C79.79 245.61 80.82 244.41 81.6 244.5C82.29 244.58 82.96 245.27 83.5 245.8C84.46 246.73 85.27 248.76 86.1 248.9C86.7 249 87.22 247.29 87.8 246.5C88.29 245.83 88.72 245.08 89.3 244.5C90.05 243.75 90.86 242.92 91.8 242.5C92.56 242.16 93.61 241.96 94.4 242.2C95.51 242.53 96.5 244.28 97.5 244.2C98.6 244.11 99.51 242.26 100.7 241.7C101.84 241.16 103.23 240.97 104.5 240.9C105.49 240.84 106.55 241.03 107.5 241.3C108.05 241.46 108.63 241.76 109 242.2C109.87 243.23 110.54 245.7 111.2 245.7C111.81 245.7 111.96 243.04 112.8 242.2C113.56 241.44 114.88 241.11 116 240.9C117.95 240.54 120 240.54 122 240.5C128 240.38 134 240.42 140 240.4C146.97 240.38 153.93 240.4 160.9 240.4" fill="none" stroke="#D7AA1E" stroke-width="1.25" stroke-linejoin="round" stroke-linecap="round"/>
<path d="M170.4 241.1C174.5 240.97 178.6 240.66 182.7 240.7C186.34 240.73 189.97 241.08 193.6 241.3C197.23 241.52 200.87 241.75 204.5 242C205.67 242.08 206.87 242.04 208 242.3C209.17 242.57 210.45 242.88 211.4 243.6C213.28 245.02 215.23 246.71 216.5 248.7C218.2 251.37 219.03 254.64 220.3 257.6C221.13 259.54 221.77 262.02 222.8 263.4C223.04 263.72 223.87 263.1 224.1 262.7C224.73 261.6 224.91 259.13 225.4 258.9C225.75 258.73 226.39 260.58 226.6 261.5C227.35 264.74 227.64 270.62 228.3 271.4C228.71 271.89 229.37 267.35 229.8 265.3C230.51 261.92 230.8 258.42 231.7 255.1C232.3 252.89 233.11 250.63 234.3 248.7C235.25 247.16 236.61 245.64 238.1 244.7C239.15 244.04 240.68 244.3 241.9 243.9C243.01 243.53 244.02 242.45 245.1 242.4C246.15 242.35 247.28 243.1 248.3 243.6C248.98 243.94 249.5 244.69 250.2 244.9C250.96 245.13 252.16 244.43 252.7 244.9C253.62 245.7 254.29 247.34 254.6 248.7C255.35 252 255.49 255.5 255.9 258.9C256.36 262.73 256.69 266.58 257.2 270.4C257.33 271.35 257.58 273.49 257.8 273.2C258.22 272.63 258.77 269.62 259.1 267.8C259.64 264.85 259.74 261.81 260.4 258.9C260.8 257.14 261.54 255.44 262.3 253.8C263.01 252.27 264.07 249.35 264.8 249.4C265.53 249.45 266.19 254.21 266.7 254.1C267.26 253.98 267.4 250.44 268 248.7C268.46 247.37 269.07 246.02 269.9 244.9C270.57 243.99 271.52 243.16 272.5 242.6C273.22 242.19 274.15 242.06 275 242C278.45 241.76 281.93 241.74 285.4 241.7C289.67 241.64 293.96 241.43 298.2 241.7C300.76 241.86 303.47 242.12 305.8 243C307.27 243.55 308.26 245.13 309.6 246C310.22 246.4 311.1 246.96 311.7 246.8C312.36 246.63 312.82 245 313.4 245C313.99 245 314.79 246.07 315.2 246.8C316.09 248.37 316.54 250.22 317.3 251.9C318.08 253.62 318.81 255.4 319.8 257C320.48 258.1 321.46 260 322.3 260C323.16 260 324.28 258.15 324.9 257C325.98 255.01 326.34 252.62 327.4 250.6C328.44 248.62 329.59 246.47 331.2 245C332.55 243.77 334.49 242.85 336.3 242.5C338.76 242.02 341.52 242.11 344 242.5C345.35 242.71 346.98 243.29 347.8 244.3C348.85 245.59 349.17 247.66 349.6 249.4C350.11 251.46 350.27 255.7 350.6 255.7C350.93 255.7 351.11 251.46 351.6 249.4C351.88 248.23 352.16 246.5 352.9 246C353.43 245.64 354.68 247.04 355.4 246.8C356.38 246.47 356.9 244.66 358 244.3C360.74 243.4 363.91 243.1 366.9 243C371.95 242.83 377.04 243.21 382.1 243.5C384.67 243.65 387.58 243.41 389.8 244.3C390.98 244.78 391.53 247.63 392.3 247.6C393.06 247.57 393.36 244.67 394.4 244.1C395.49 243.5 397.67 243.4 398.7 244.1C400.07 245.03 400.7 249 401.6 249C402.46 249 402.56 244.81 404 244.1C406.46 242.88 410.19 243.36 413.3 243.2C416.19 243.06 419.11 243.02 422 243.2C423.95 243.32 426.06 243.35 427.8 244.1C429.46 244.82 430.96 246.23 432.2 247.6C433.4 248.93 434.22 252.38 435.1 252.2C436.15 251.98 436.59 247.85 438 246.4C439.02 245.35 440.88 244.83 442.4 244.7C444.28 244.53 446.35 244.97 448.2 245.5C449.71 245.93 450.98 247.29 452.5 247.6C454.38 247.99 456.54 247.18 458.4 247.6C459.94 247.95 461.49 248.86 462.7 249.9C464.09 251.1 465.39 252.64 466.2 254.3C467.52 257.01 468.28 260.06 469.1 263C470.04 266.36 470.47 269.89 471.5 273.2C471.83 274.26 472.73 276.31 473.2 276.1C473.86 275.81 474.48 273.21 474.9 271.7C475.84 268.34 476.12 264.73 477.3 261.5C477.88 259.9 478.95 258.31 480.2 257.2C481.35 256.18 483.32 254.85 484.5 255.1C485.55 255.32 486.54 257.26 486.9 258.6C488.01 262.79 488.04 267.39 488.9 271.7C489.1 272.72 489.77 274.93 490.1 274.6C490.74 273.96 491.01 270.64 491.8 268.8C492.54 267.07 493.34 264.98 494.7 263.9C495.77 263.05 497.62 263.23 499.1 263C501.52 262.63 504.03 261.97 506.4 262.1C507.63 262.17 508.78 263.6 509.9 263.6C510.71 263.6 511.34 262.37 512.2 262.1C515 261.21 518.04 260.91 520.9 260.1C523.84 259.27 526.8 258.39 529.6 257.2C531.37 256.45 533.3 254.13 534.6 254.3C535.54 254.43 535.68 258.1 536.3 258.1C536.95 258.1 537.56 254.83 538.4 254.3C538.83 254.03 539.87 255.03 540.1 255.7C541.04 258.43 541.33 261.56 541.9 264.5C542.69 268.56 543.43 272.63 544.2 276.7" fill="none" stroke="#D7AA1E" stroke-width="1.25" stroke-linejoin="round" stroke-linecap="round"/>
<path d="M35.8 290.6C50.53 290.6 65.27 290.52 80 290.6C83 290.62 86.05 290.54 89 290.9C90.38 291.07 91.72 291.65 93 292.2C93.66 292.48 94.16 293.32 94.8 293.4C95.49 293.49 96.25 292.67 97 292.7C99.15 292.8 101.45 293.12 103.5 293.8C105.05 294.32 106.37 295.46 107.8 296.3C108.77 296.86 109.7 297.77 110.7 298C111.27 298.13 111.99 297.23 112.5 297.4C113.19 297.63 113.74 299.22 114.3 299.2C114.84 299.18 115.13 297.68 115.8 297.3C116.83 296.71 118.21 296.66 119.4 296.3C120.87 295.86 122.32 295.31 123.8 294.9C125.85 294.34 127.9 293.7 130 293.4C133.3 292.93 136.66 292.72 140 292.6C143.33 292.48 146.67 292.54 150 292.7C153.64 292.87 157.27 293.3 160.9 293.6" fill="none" stroke="#2AB4E6" stroke-width="1.25" stroke-linejoin="round" stroke-linecap="round"/>
<path d="M170.4 295.9C174.5 296.2 178.6 296.73 182.7 296.8C186.33 296.86 189.98 296.26 193.6 296.3C195.44 296.32 197.31 296.58 199.1 297C200.58 297.35 202.18 297.77 203.4 298.6C204.35 299.24 205.03 300.37 205.6 301.4C206.33 302.74 206.59 304.34 207.3 305.7C207.79 306.64 208.46 308.24 209.2 308.3C210 308.37 211.13 306.96 211.9 306.1C213.56 304.26 214.74 301.82 216.5 300.2C217.14 299.62 218.43 299.16 219.1 299.5C220.13 300.03 220.9 301.62 221.6 302.8C222.56 304.42 223.25 307.9 224.1 307.9C224.95 307.9 225.69 304.41 226.7 302.8C227.82 301.01 228.93 298.92 230.5 297.7C231.46 296.95 233.1 296.7 234.3 296.9C235.64 297.13 236.86 298.26 238.1 299C239.42 299.79 240.66 301.5 242 301.5C243.62 301.5 245.24 299.53 247 299C248.91 298.43 251 298.45 253 298.2C254.67 297.99 256.33 297.8 258 297.6C259.67 297.4 261.34 297.23 263 297C264.67 296.77 266.34 296.49 268 296.2C269 296.02 269.99 295.63 271 295.6C271.99 295.57 273.21 295.52 274 296C274.75 296.46 275.04 298.4 275.6 298.4C276.18 298.4 276.69 296.33 277.4 296C277.82 295.8 278.72 296.31 279 296.8C279.79 298.18 280.03 301.37 280.6 301.6C281.03 301.77 281.19 298.84 282 298C282.66 297.31 284 296.94 285 297C286.34 297.08 288.04 297.5 289 298.4C290.17 299.5 290.76 301.4 291.4 303C292.09 304.73 292.2 307.65 293 308.4C293.4 308.78 294.23 306.92 295 306.4C295.9 305.79 297.29 305.77 298 305C298.96 303.97 299.28 302.3 300 301C300.94 299.3 301.73 297.36 303 296C303.66 295.29 304.98 294.52 305.8 294.8C307.18 295.28 308.55 296.97 309.6 298.3C310.68 299.67 311.05 301.75 312.2 302.9C312.75 303.45 313.91 303.56 314.7 303.4C316.01 303.13 317.2 302.11 318.5 301.6C319.73 301.11 321.04 300.4 322.3 300.4C323.41 300.4 325.01 300.72 325.6 301.6C326.71 303.26 326.79 305.87 327.4 308C328.25 310.97 328.95 314.01 330 316.9C330.65 318.67 331.49 320.47 332.5 322C332.76 322.4 333.51 322.94 333.8 322.7C334.54 322.08 335.19 320.58 335.6 319.4C336.46 316.94 336.78 314.28 337.6 311.8C338.32 309.62 339 307.31 340.2 305.4C341.13 303.91 342.58 302.65 344 301.6C345.11 300.78 346.47 300.17 347.8 299.8C349.43 299.34 351.27 298.9 352.9 299.1C354.23 299.26 355.55 300.13 356.7 300.9C358.08 301.83 359.34 303 360.5 304.2C361.47 305.2 362.18 306.46 363.1 307.5C363.44 307.89 364.03 308.77 364.3 308.5C365.13 307.67 365.62 304.57 366.4 304.2C366.89 303.97 367.66 305.8 368.1 306.7C369.1 308.76 369.59 311.1 370.7 313.1C371.72 314.94 373.02 316.72 374.5 318.2C375.56 319.26 377.03 320.7 378.3 320.7C379.57 320.7 381.21 319.37 382.1 318.2C383.78 315.97 384.81 313.11 386 310.5C386.94 308.45 387.54 306.23 388.5 304.2C388.97 303.2 389.78 301.18 390.3 301.4C391.05 301.72 391.6 305.75 392.3 305.8C392.97 305.85 393.52 301.59 394.4 301.7C395.65 301.86 397.34 304.91 398.7 306.6C400.24 308.51 401.69 310.49 403.1 312.5C404.43 314.39 405.48 317.25 406.9 318.3C407.41 318.68 408.35 316.61 408.9 316.8C409.68 317.07 410.01 319.29 410.9 319.7C411.67 320.06 413.11 318.74 413.9 319.1C414.88 319.54 415.27 321.35 416.2 322.1C416.71 322.51 417.9 323.07 418.2 322.6C419.17 321.1 419.32 316.82 420 316.2C420.39 315.85 420.89 319.82 421.4 319.7C422.05 319.55 422.87 316.86 423.5 315.4C424.54 313 425.2 310.31 426.4 308.1C426.63 307.67 427.5 307.19 427.8 307.5C428.93 308.66 429.56 310.96 430.7 312.5C432 314.26 433.5 316.52 435.1 317.4C435.73 317.75 436.72 316.06 437.4 316.2C438.18 316.36 438.64 317.91 439.5 318.3C440.77 318.88 442.49 318.53 443.8 319.1C445.39 319.8 446.63 321.35 448.2 322.1C449.07 322.52 450.19 322.82 451.1 322.6C452.63 322.22 454.17 321.25 455.5 320.3C456.87 319.32 458.06 316.92 459.2 316.8C460 316.72 460.78 319.91 461.3 319.7C461.95 319.44 462.01 316.71 462.7 315.4C463.28 314.31 464.52 312.29 465.1 312.5C465.79 312.75 466 315.38 466.5 316.8C467.13 318.58 467.66 322 468.5 322.1C469.33 322.2 470.26 318.75 471.5 317.4C473.19 315.55 475.33 314.08 477.3 312.5C479.19 310.98 481.17 309.57 483.1 308.1C485.03 306.63 486.95 305.14 488.9 303.7C489.85 303 491.17 301.24 491.8 301.7C492.91 302.51 493.17 306.89 494.1 307.5C494.63 307.85 495.33 305.39 496.2 304.6C497.46 303.46 498.98 302.49 500.5 301.7C501.42 301.22 502.69 300.49 503.5 300.8C504.46 301.16 505.42 302.55 505.8 303.7C506.86 306.92 507.01 310.53 507.8 313.9C508.38 316.36 509.17 321.2 509.9 321.2C510.64 321.2 511.34 316.3 512.2 313.9C513.08 311.44 513.85 308.87 515.1 306.6C515.98 305 517.25 302.91 518.6 302.3C519.38 301.94 520.82 302.94 521.5 303.7C522.55 304.87 523.25 306.55 523.8 308.1C524.79 310.91 525.34 313.9 526.1 316.8C526.81 319.53 527.45 324.73 528.2 325C528.82 325.23 529.63 320.56 530.2 318.3C531.06 314.92 531.55 311.45 532.5 308.1C533.12 305.91 533.85 303.66 534.9 301.7C535.31 300.93 536.44 299.64 536.9 299.9C537.6 300.3 538.17 302.37 538.4 303.7C539.14 308 539.24 312.45 539.8 316.8C540.2 319.91 540.47 324.2 541.3 326.1C541.53 326.63 542.38 324.72 543 324.1C543.55 323.55 544.2 323.1 544.8 322.6" fill="none" stroke="#2AB4E6" stroke-width="1.25" stroke-linejoin="round" stroke-linecap="round"/>
<path d="M35.8 341.9C43.8 341.9 51.82 341.72 59.8 341.9C60.56 341.92 61.36 342.12 62 342.5C63.49 343.38 64.76 344.69 66.2 345.7C68.69 347.45 71.17 349.26 73.8 350.8C76.24 352.23 78.74 353.78 81.4 354.6C83.41 355.22 85.79 354.56 87.8 355.1C89.02 355.43 90.21 356.31 91.1 357.2C91.74 357.84 91.93 359.87 92.4 359.7C93.13 359.43 93.7 356.95 94.7 355.9C95.96 354.58 97.56 353.44 99.2 352.6C101.2 351.57 103.47 350.61 105.6 350.3C106.44 350.18 107.32 351.42 108.1 351.3C109.02 351.16 109.83 349.39 110.7 349.5C111.96 349.66 113.25 351.2 114.5 352.1C116.22 353.34 117.89 354.65 119.6 355.9C121.02 356.95 122.53 359 123.9 359C125.07 359 125.96 356.74 127.2 355.9C128.76 354.84 130.58 354.13 132.3 353.3C133.55 352.7 134.84 351.66 136.1 351.6C137.07 351.56 138.13 352.39 139 353C140.16 353.82 141.22 356.04 142.2 355.9C143.32 355.74 144.1 353.19 145.3 352.1C146.83 350.72 148.58 349.46 150.4 348.5C151.94 347.69 153.71 347.3 155.4 346.8C157.21 346.26 159.07 345.87 160.9 345.4" fill="none" stroke="#FF850A" stroke-width="1.25" stroke-linejoin="round" stroke-linecap="round"/>
<path d="M170.4 344.3C174.5 344.37 178.6 344.36 182.7 344.5C186.34 344.63 189.98 344.79 193.6 345.1C195.44 345.26 197.33 345.41 199.1 345.9C200.96 346.41 202.89 347.08 204.5 348.1C205.79 348.92 206.91 350.16 207.8 351.4C208.61 352.52 209.22 353.86 209.6 355.2C210.25 357.5 210.34 359.97 210.9 362.3C211.21 363.57 211.81 366.32 212.2 366C212.85 365.46 213.15 361.67 214 359.7C214.42 358.74 215.2 357.43 216 357.2C216.7 357 217.91 357.73 218.5 358.4C219.61 359.67 220.14 361.54 221.1 363C221.44 363.51 222.02 364.51 222.4 364.3C223.22 363.84 223.8 361.96 224.7 361C225.23 360.43 225.99 359.78 226.7 359.7C227.49 359.61 228.49 360.75 229.2 360.5C230.19 360.15 230.89 358.72 231.8 357.9C232.59 357.19 233.55 356.65 234.3 355.9C235.08 355.12 235.91 352.98 236.4 353.3C237.18 353.81 237.7 356.66 238.1 358.4C238.87 361.76 239.09 365.26 239.9 368.6C240.39 370.62 240.99 373.67 242 374.5C242.53 374.93 243.96 373.31 244.5 372.4C245.63 370.48 246.22 368.15 247 366C247.92 363.48 248.41 360.76 249.6 358.4C250.54 356.53 252.02 354.24 253.4 353.3C253.88 352.97 255.02 353.92 255.2 354.6C256.05 357.75 255.88 364.31 256.5 364.8C256.98 365.18 257.42 359.45 258.5 357.2C258.92 356.32 260.11 355.5 261 355.4C261.94 355.3 263.05 356.1 264 356.6C265.05 357.16 266.13 358.7 267 358.6C267.79 358.5 268.26 356.8 269 356C269.93 355 270.92 354.03 272 353.2C272.92 352.49 273.97 351.95 275 351.4C275.97 350.88 277.06 349.96 278 350C278.73 350.03 279.66 350.85 280 351.6C280.86 353.52 280.97 357.74 281.6 358C282.11 358.21 282.49 354.44 283.4 353C283.96 352.11 285.12 351.11 286 351C286.65 350.91 287.45 352.59 288 352.4C288.78 352.13 289.17 350.31 290 349.6C290.5 349.17 291.7 348.52 292 349C293.04 350.66 293.23 355.62 294 356C294.57 356.28 295.07 352.49 296 351C296.73 349.82 297.83 348.66 299 348C299.83 347.53 301.28 347.12 302 347.6C303.28 348.45 303.83 350.73 305 352C305.49 352.53 306.48 353.31 307 353C308.15 352.31 308.71 349.85 310 349C311.04 348.31 313.11 347.8 314 348.4C315.11 349.14 315.5 351.41 316 353C316.83 355.61 317.25 360.62 318 361C318.58 361.29 319.1 356.15 320 355C320.3 354.61 321.2 356.7 321.6 356.4C322.54 355.7 322.96 353.14 324 352C324.42 351.54 325.65 351.14 326 351.6C327.18 353.14 327.58 357.43 328.6 358C329.24 358.36 329.95 354.99 331 354.4C331.75 353.99 333.31 354.36 334 355C335.31 356.22 336.19 358.24 337 360C338.19 362.58 338.81 365.42 340 368C340.81 369.76 341.79 371.51 343 373C343.79 373.98 345.17 374.46 346 375.4C346.64 376.12 346.94 377.13 347.4 378C347.94 379 348.42 381 349 381C349.62 381 350.18 378.82 351 378C351.51 377.49 352.52 376.71 353 377C353.85 377.51 354.13 379.53 355 380.4C355.46 380.86 356.66 381.42 357 381C357.86 379.95 358.09 377.67 358.6 376C359.42 373.34 360.06 370.62 361 368C361.86 365.62 362.79 363.21 364 361C364.79 359.55 365.94 357.43 367 357C367.6 356.76 368.56 358.19 369 359C369.76 360.39 370.04 363.41 370.6 363.6C371.04 363.75 371.36 361.1 372 360C372.83 358.57 373.88 357.22 375 356C376.21 354.69 377.96 352.23 379 352.4C379.96 352.56 380.15 356.45 381 357C381.48 357.31 382.33 355 383 355C383.67 355 384.66 356.15 385 357C385.86 359.15 386.18 361.65 386.6 364C387.18 367.31 387.4 370.7 388 374C388.26 375.43 388.66 378.02 389.2 378.2C389.66 378.35 390.48 376.11 391 375C392.08 372.71 392.84 370.25 394 368C394.84 366.38 395.85 364.78 397 363.4C397.51 362.78 398.45 361.85 399 362C399.65 362.18 400.06 364.57 400.6 364.4C401.43 364.14 402.08 361.76 403.1 360.7C404.38 359.36 405.95 358.24 407.5 357.2C408.85 356.3 410.4 355.07 411.8 354.9C412.54 354.81 413.65 355.62 413.9 356.4C414.91 359.49 414.76 365.18 415.6 366.5C415.99 367.11 416.83 363.57 417.6 362.2C418.46 360.67 419.3 358.39 420.5 357.8C421.26 357.42 422.94 358.44 423.5 359.3C424.4 360.68 424.3 364.5 424.9 364.5C425.53 364.5 426.19 360.87 427.2 359.3C428.12 357.87 429.3 356.39 430.7 355.5C431.93 354.72 433.62 354.41 435.1 354.3C436.35 354.21 438 354.25 438.9 354.9C439.63 355.42 439.54 357.8 440 357.8C440.51 357.8 440.94 355.52 441.8 354.9C442.71 354.25 444.14 354 445.3 354C446.27 354 447.63 354.2 448.2 354.9C449.06 355.97 449.03 357.87 449.6 359.3C450 360.31 450.7 362.41 451.1 362.2C451.67 361.91 451.84 358.46 452.5 357.8C452.8 357.5 453.68 358.68 454 359.3C454.95 361.12 455.56 365.1 456.3 365.1C457.03 365.1 457.35 360.97 458.4 359.3C459.01 358.33 460.21 357.56 461.3 357.2C462.61 356.76 464.32 356.53 465.6 356.9C466.72 357.23 467.98 358.21 468.5 359.3C469.75 361.91 470.22 365.07 470.9 368C471.69 371.37 472.13 377.64 472.9 378.2C473.46 378.61 474.1 373.29 474.9 370.9C475.56 368.92 476.23 366.85 477.3 365.1C478 363.95 479.09 362.58 480.2 362.2C481.02 361.92 482.32 362.52 483.1 363.1C484.25 363.95 485.36 365.19 486 366.5C487.09 368.75 487.59 371.35 488.3 373.8C488.86 375.72 489.22 379.6 489.8 379.6C490.39 379.6 490.91 375.62 491.8 373.8C492.55 372.26 493.59 370.82 494.7 369.5C496.03 367.92 497.5 366.39 499.1 365.1C499.94 364.42 501.14 363.39 502 363.6C503.08 363.86 504.31 365.3 504.9 366.5C506.24 369.2 506.64 372.46 507.8 375.3C508.11 376.06 508.78 377.48 509.3 377.3C510.25 376.98 511.21 374.95 512.2 373.8C513.61 372.15 514.9 370.34 516.5 368.9C517.8 367.74 519.34 366.51 520.9 366C521.77 365.71 523.22 365.85 523.8 366.5C524.95 367.78 525.27 370.07 526.1 371.8C526.44 372.5 526.85 373.92 527.3 373.8C528.02 373.62 528.71 371.72 529.6 370.9C530.27 370.29 531.46 369.14 532 369.5C532.92 370.11 533.45 372.32 534 373.8C534.88 376.19 535.24 378.85 536.3 381.1C536.7 381.95 537.64 383 538.4 383.1C539.11 383.2 540.22 382.41 540.7 381.7C541.66 380.28 541.98 378.34 542.7 376.7C543.34 375.24 544.1 373.83 544.8 372.4" fill="none" stroke="#FF850A" stroke-width="1.25" stroke-linejoin="round" stroke-linecap="round"/>
<text x="42" y="273.1" font-family='"Liberation Sans", Arial, sans-serif' font-size="8.1" fill="#0d0d0d" stroke="#0d0d0d" stroke-width="0.22">Aniline</text>
<text x="42" y="323.9" font-family='"Liberation Sans", Arial, sans-serif' font-size="8.1" fill="#0d0d0d" stroke="#0d0d0d" stroke-width="0.22">AMPS-acid</text>
<text x="42" y="383.6" font-family='"Liberation Sans", Arial, sans-serif' font-size="7.85" fill="#0d0d0d" stroke="#0d0d0d" stroke-width="0.22">Ani–AMPS</text>
<text x="86.2" y="271.8" font-family='"Liberation Sans", Arial, sans-serif' font-size="7.9" text-anchor="middle" fill="#0d0d0d" stroke="#0d0d0d" stroke-width="0.32">3352</text>
<line x1="86.5" y1="263.6" x2="86.5" y2="249.8" stroke="#0d0d0d" stroke-width="0.6"/>
<path d="M86.5 249.8L87.85 252.81L85.15 252.81Z" fill="#0d0d0d"/>
<text x="94.8" y="310.7" font-family='"Liberation Sans", Arial, sans-serif' font-size="7.9" text-anchor="middle" fill="#0d0d0d" stroke="#0d0d0d" stroke-width="0.32">3274</text>
<line x1="95.4" y1="303" x2="95.4" y2="295" stroke="#0d0d0d" stroke-width="0.6"/>
<path d="M95.4 295L96.75 298.01L94.05 298.01Z" fill="#0d0d0d"/>
<text x="203" y="324.3" font-family='"Liberation Sans", Arial, sans-serif' font-size="7.9" text-anchor="middle" fill="#0d0d0d" stroke="#0d0d0d" stroke-width="0.32">1665</text>
<line x1="209.4" y1="316.6" x2="209.4" y2="309.6" stroke="#0d0d0d" stroke-width="0.6"/>
<path d="M209.4 309.6L210.75 312.61L208.05 312.61Z" fill="#0d0d0d"/>
<text x="230" y="324.3" font-family='"Liberation Sans", Arial, sans-serif' font-size="7.9" text-anchor="middle" fill="#0d0d0d" stroke="#0d0d0d" stroke-width="0.32">1613</text>
<line x1="224.7" y1="316.6" x2="224.7" y2="309.6" stroke="#0d0d0d" stroke-width="0.6"/>
<path d="M224.7 309.6L226.05 312.61L223.35 312.61Z" fill="#0d0d0d"/>
<text x="327.4" y="275.8" font-family='"Liberation Sans", Arial, sans-serif' font-size="7.9" text-anchor="middle" fill="#0d0d0d" stroke="#0d0d0d" stroke-width="0.32">1274</text>
<line x1="327.4" y1="267.4" x2="322.9" y2="261.2" stroke="#0d0d0d" stroke-width="0.6"/>
<path d="M322.9 261.2L325.76 262.85L323.58 264.43Z" fill="#0d0d0d"/>
<text x="92.9" y="376.5" font-family='"Liberation Sans", Arial, sans-serif' font-size="7.9" text-anchor="middle" fill="#0d0d0d" stroke="#0d0d0d" stroke-width="0.32">3276</text>
<line x1="92.4" y1="369.2" x2="92.4" y2="361.4" stroke="#0d0d0d" stroke-width="0.6"/>
<path d="M92.4 361.4L93.75 364.41L91.05 364.41Z" fill="#0d0d0d"/>
<text x="122.9" y="376.5" font-family='"Liberation Sans", Arial, sans-serif' font-size="7.9" text-anchor="middle" fill="#0d0d0d" stroke="#0d0d0d" stroke-width="0.32">2875</text>
<line x1="123.9" y1="369.2" x2="123.9" y2="360.4" stroke="#0d0d0d" stroke-width="0.6"/>
<path d="M123.9 360.4L125.25 363.41L122.55 363.41Z" fill="#0d0d0d"/>
<text x="146.5" y="376.5" font-family='"Liberation Sans", Arial, sans-serif' font-size="7.9" text-anchor="middle" fill="#0d0d0d" stroke="#0d0d0d" stroke-width="0.32">2638</text>
<line x1="145.4" y1="369.2" x2="142.8" y2="358.2" stroke="#0d0d0d" stroke-width="0.6"/>
<path d="M142.8 358.2L144.8 360.82L142.18 361.44Z" fill="#0d0d0d"/>
<text x="207.1" y="383.4" font-family='"Liberation Sans", Arial, sans-serif' font-size="7.9" text-anchor="middle" fill="#0d0d0d" stroke="#0d0d0d" stroke-width="0.32">1654</text>
<line x1="212.2" y1="375.4" x2="212.2" y2="367.8" stroke="#0d0d0d" stroke-width="0.6"/>
<path d="M212.2 367.8L213.55 370.81L210.85 370.81Z" fill="#0d0d0d"/>
<text x="228.2" y="383.4" font-family='"Liberation Sans", Arial, sans-serif' font-size="7.9" text-anchor="middle" fill="#0d0d0d" stroke="#0d0d0d" stroke-width="0.32">1620</text>
<line x1="228.2" y1="375.2" x2="222.4" y2="366.2" stroke="#0d0d0d" stroke-width="0.6"/>
<path d="M222.4 366.2L225.16 368L222.9 369.46Z" fill="#0d0d0d"/>
<text x="268.6" y="383.4" font-family='"Liberation Sans", Arial, sans-serif' font-size="7.9" text-anchor="middle" fill="#0d0d0d" stroke="#0d0d0d" stroke-width="0.32">1465</text>
<line x1="267.1" y1="375.6" x2="267.1" y2="359.6" stroke="#0d0d0d" stroke-width="0.6"/>
<path d="M267.1 359.6L268.45 362.61L265.75 362.61Z" fill="#0d0d0d"/>
<text x="331.2" y="382.6" font-family='"Liberation Sans", Arial, sans-serif' font-size="7.9" text-anchor="middle" fill="#0d0d0d" stroke="#0d0d0d" stroke-width="0.32">1177</text>
<line x1="340.4" y1="380.8" x2="347.6" y2="381" stroke="#0d0d0d" stroke-width="0.6"/>
<path d="M347.6 381L345.11 382.03L345.17 379.83Z" fill="#0d0d0d"/>
<text x="374.6" y="382.6" font-family='"Liberation Sans", Arial, sans-serif' font-size="7.9" text-anchor="middle" fill="#0d0d0d" stroke="#0d0d0d" stroke-width="0.32">1157</text>
<line x1="365.6" y1="380.4" x2="358.2" y2="380.4" stroke="#0d0d0d" stroke-width="0.6"/>
<path d="M358.2 380.4L360.67 379.3L360.67 381.5Z" fill="#0d0d0d"/>
<text x="398.3" y="381.8" font-family='"Liberation Sans", Arial, sans-serif' font-size="7.9" fill="#0d0d0d" stroke="#0d0d0d" stroke-width="0.32">1041</text>
<line x1="398" y1="379" x2="391.4" y2="379" stroke="#0d0d0d" stroke-width="0.6"/>
<path d="M391.4 379L393.87 377.9L393.87 380.1Z" fill="#0d0d0d"/>
</svg>
</body></html>
